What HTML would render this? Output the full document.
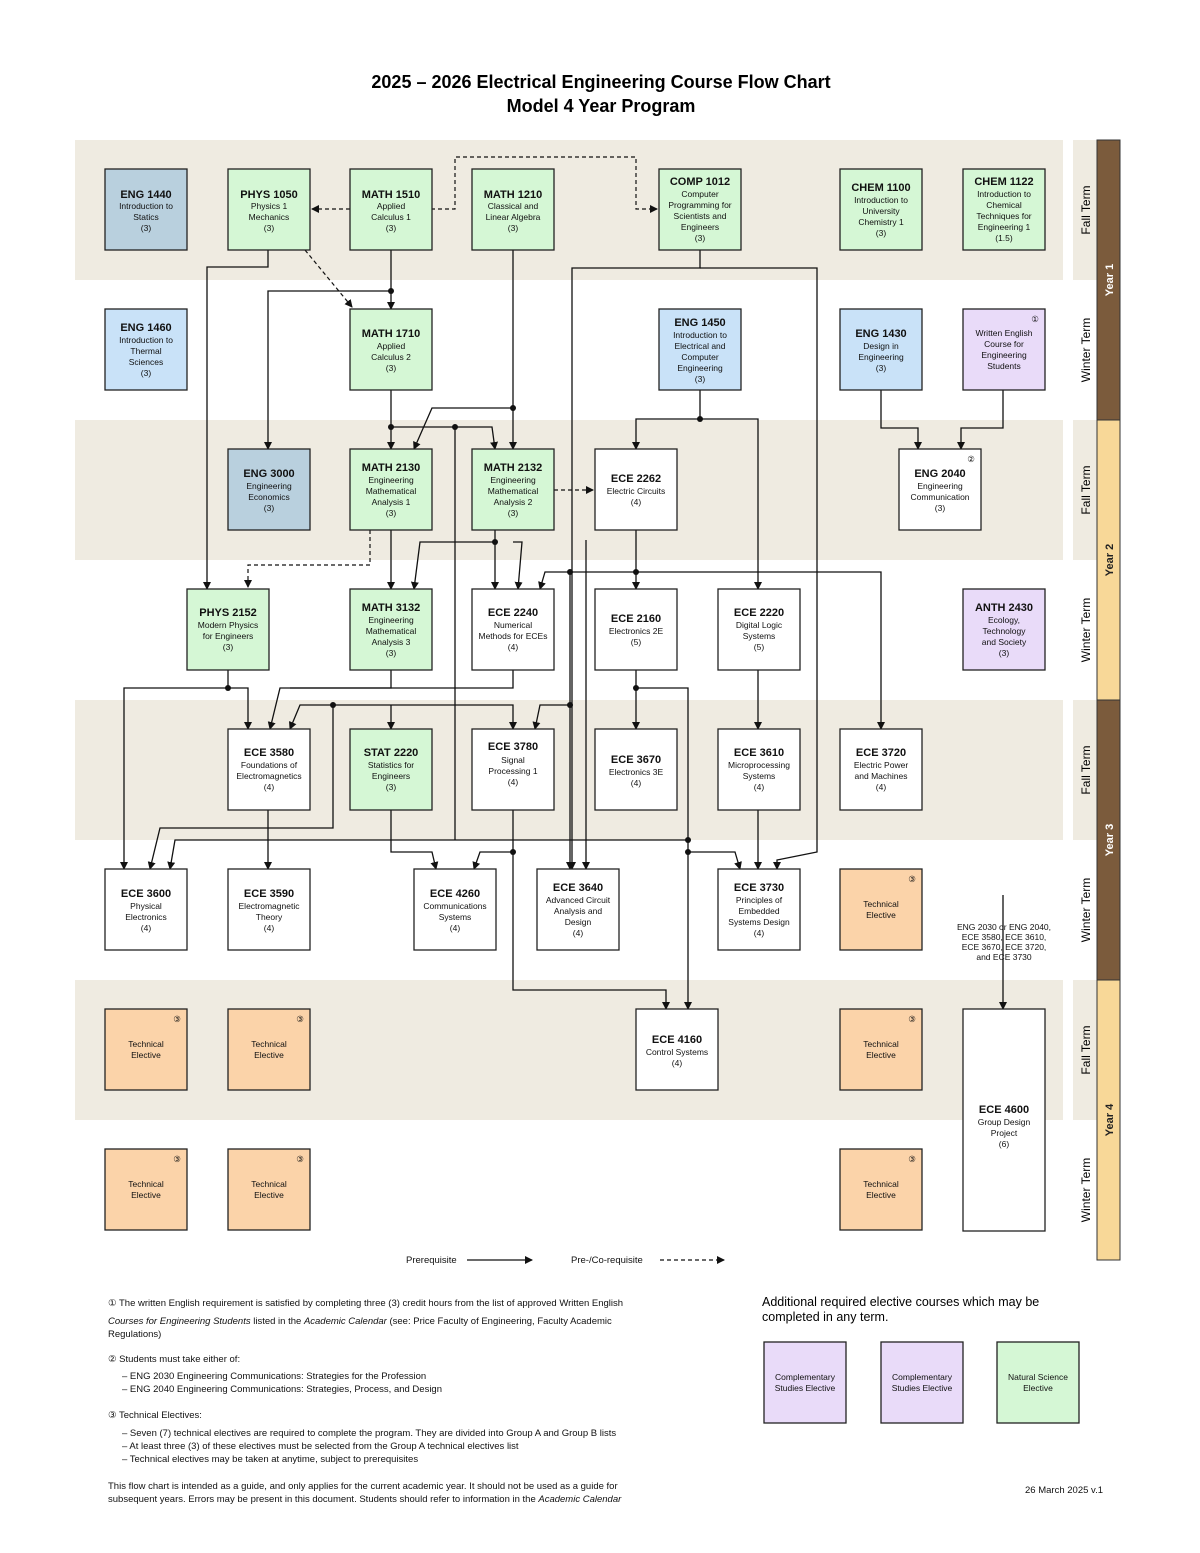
<!DOCTYPE html>
<html><head><meta charset="utf-8"><style>
body{margin:0;background:#fff}
svg{display:block;font-family:"Liberation Sans",Arial,sans-serif}
.c{font-size:11px;font-weight:bold;text-anchor:middle;fill:#111}
.d{font-size:8.5px;text-anchor:middle;fill:#111}
.l{fill:none;stroke:#111;stroke-width:1.3}
.dash{fill:none;stroke:#111;stroke-width:1.2;stroke-dasharray:4 3}
.n{font-size:9.5px;fill:#111}
</style></head><body>
<svg width="1200" height="1553" viewBox="0 0 1200 1553">
<defs>
<marker id="a" markerWidth="8" markerHeight="8" refX="7" refY="4" orient="auto" markerUnits="userSpaceOnUse"><path d="M0,0 L8,4 L0,8z" fill="#111"/></marker>
</defs>
<text x="601" y="88" font-size="18" font-weight="bold" text-anchor="middle">2025 – 2026 Electrical Engineering Course Flow Chart</text>
<text x="601" y="112" font-size="18" font-weight="bold" text-anchor="middle">Model 4 Year Program</text>
<!-- bands -->
<g fill="#efebe1">
<rect x="75" y="140" width="988" height="140"/><rect x="75" y="420" width="988" height="140"/>
<rect x="75" y="700" width="988" height="140"/><rect x="75" y="980" width="988" height="140"/>
<rect x="1073" y="140" width="24" height="140"/><rect x="1073" y="420" width="24" height="140"/>
<rect x="1073" y="700" width="24" height="140"/><rect x="1073" y="980" width="24" height="140"/>
</g>
<g stroke="#333" stroke-width="1">
<rect x="1097" y="140" width="23" height="280" fill="#7b5b3c"/>
<rect x="1097" y="420" width="23" height="280" fill="#f8d898"/>
<rect x="1097" y="700" width="23" height="280" fill="#7b5b3c"/>
<rect x="1097" y="980" width="23" height="280" fill="#f8d898"/>
</g>
<g font-size="12" text-anchor="middle">
<text transform="translate(1090,210) rotate(-90)">Fall Term</text>
<text transform="translate(1090,350) rotate(-90)">Winter Term</text>
<text transform="translate(1090,490) rotate(-90)">Fall Term</text>
<text transform="translate(1090,630) rotate(-90)">Winter Term</text>
<text transform="translate(1090,770) rotate(-90)">Fall Term</text>
<text transform="translate(1090,910) rotate(-90)">Winter Term</text>
<text transform="translate(1090,1050) rotate(-90)">Fall Term</text>
<text transform="translate(1090,1190) rotate(-90)">Winter Term</text>
<g font-weight="bold" font-size="11">
<text transform="translate(1113,280) rotate(-90)" fill="#fff">Year 1</text>
<text transform="translate(1113,560) rotate(-90)" fill="#222">Year 2</text>
<text transform="translate(1113,840) rotate(-90)" fill="#fff">Year 3</text>
<text transform="translate(1113,1120) rotate(-90)" fill="#222">Year 4</text>
</g></g>

<!-- connectors -->
<g class="l">
<path d="M391,250V309" marker-end="url(#a)"/>
<path d="M391,291H268V449" marker-end="url(#a)"/>
<path d="M268,250V267H207V589" marker-end="url(#a)"/>
<path d="M513,250V449" marker-end="url(#a)"/>
<path d="M513,408H432L414,449" marker-end="url(#a)"/>
<path d="M391,390V449" marker-end="url(#a)"/>
<path d="M391,427H455L492,427L495,449" marker-end="url(#a)"/>
<path d="M455,427V840"/>
<path d="M700,250V268H572V869" marker-end="url(#a)"/>
<path d="M700,268H817V852L777,860L777,869" marker-end="url(#a)"/>
<path d="M700,390V419H636V449" marker-end="url(#a)"/>
<path d="M700,419H758V589" marker-end="url(#a)"/>
<path d="M881,390V428H918V449" marker-end="url(#a)"/>
<path d="M1003,390V428H961V449" marker-end="url(#a)"/>
<path d="M636,530V589" marker-end="url(#a)"/>
<path d="M636,572H881V729" marker-end="url(#a)"/>
<path d="M636,572H545L540,589" marker-end="url(#a)"/>
<path d="M570,572V869" marker-end="url(#a)"/>
<path d="M586,540V869" marker-end="url(#a)"/>
<path d="M391,530V589" marker-end="url(#a)"/>
<path d="M495,530V589" marker-end="url(#a)"/>
<path d="M495,542H420L414,589" marker-end="url(#a)"/>
<path d="M513,542H522L518,589" marker-end="url(#a)"/>
<path d="M636,670V729" marker-end="url(#a)"/>
<path d="M636,688H688V1009" marker-end="url(#a)"/>
<path d="M758,670V729" marker-end="url(#a)"/>
<path d="M758,810V869" marker-end="url(#a)"/>
<path d="M228,670V688H124V869" marker-end="url(#a)"/>
<path d="M228,688H248V729" marker-end="url(#a)"/>
<path d="M391,670V688H280L270,729" marker-end="url(#a)"/>
<path d="M513,670V688H290" />
<path d="M391,705H333V828H160L150,869" marker-end="url(#a)"/>
<path d="M333,705H300L290,729" marker-end="url(#a)"/>
<path d="M391,705H513V729" marker-end="url(#a)"/>
<path d="M570,705H540L535,729" marker-end="url(#a)"/>
<path d="M391,705L391,729" marker-end="url(#a)"/>
<path d="M268,810V869" marker-end="url(#a)"/>
<path d="M391,810V852H432L436,869" marker-end="url(#a)"/>
<path d="M513,810V990H666V1009" marker-end="url(#a)"/>
<path d="M513,852H480L474,869" marker-end="url(#a)"/>
<path d="M688,852H735L740,869" marker-end="url(#a)"/>
<path d="M688,840H175L170,869" marker-end="url(#a)"/>
<path d="M1003,895V1009" marker-end="url(#a)"/>
<path d="M467,1260H532" marker-end="url(#a)"/>
</g>
<g class="dash">
<path d="M350,209H312" marker-end="url(#a)"/>
<path d="M431,209H455V157H636V209H657" marker-end="url(#a)"/>
<path d="M305,250L352,307" marker-end="url(#a)"/>
<path d="M554,490H593" marker-end="url(#a)"/>
<path d="M370,530V565H248V587" marker-end="url(#a)"/>
<path d="M660,1260H724" marker-end="url(#a)"/>
</g>
<g fill="#111">
<circle cx="391" cy="291" r="3"/><circle cx="513" cy="408" r="3"/><circle cx="455" cy="427" r="3"/>
<circle cx="391" cy="427" r="3"/><circle cx="700" cy="419" r="3"/><circle cx="636" cy="572" r="3"/>
<circle cx="570" cy="572" r="3"/><circle cx="495" cy="542" r="3"/><circle cx="636" cy="688" r="3"/>
<circle cx="228" cy="688" r="3"/><circle cx="333" cy="705" r="3"/><circle cx="570" cy="705" r="3"/>
<circle cx="513" cy="852" r="3"/><circle cx="688" cy="852" r="3"/><circle cx="688" cy="840" r="3"/>
</g>

<!-- boxes -->
<g stroke="#222" stroke-width="1.3">
<rect x="105" y="169" width="82" height="81" fill="#b9d0de"/>
<rect x="228" y="169" width="82" height="81" fill="#d5f7d5"/>
<rect x="350" y="169" width="82" height="81" fill="#d5f7d5"/>
<rect x="472" y="169" width="82" height="81" fill="#d5f7d5"/>
<rect x="659" y="169" width="82" height="81" fill="#d5f7d5"/>
<rect x="840" y="169" width="82" height="81" fill="#d5f7d5"/>
<rect x="963" y="169" width="82" height="81" fill="#d5f7d5"/>
<rect x="105" y="309" width="82" height="81" fill="#c9e2f8"/>
<rect x="350" y="309" width="82" height="81" fill="#d5f7d5"/>
<rect x="659" y="309" width="82" height="81" fill="#c9e2f8"/>
<rect x="840" y="309" width="82" height="81" fill="#c9e2f8"/>
<rect x="963" y="309" width="82" height="81" fill="#e9dbf9"/>
<rect x="228" y="449" width="82" height="81" fill="#b9d0de"/>
<rect x="350" y="449" width="82" height="81" fill="#d5f7d5"/>
<rect x="472" y="449" width="82" height="81" fill="#d5f7d5"/>
<rect x="595" y="449" width="82" height="81" fill="#fff"/>
<rect x="899" y="449" width="82" height="81" fill="#fff"/>
<rect x="187" y="589" width="82" height="81" fill="#d5f7d5"/>
<rect x="350" y="589" width="82" height="81" fill="#d5f7d5"/>
<rect x="472" y="589" width="82" height="81" fill="#fff"/>
<rect x="595" y="589" width="82" height="81" fill="#fff"/>
<rect x="718" y="589" width="82" height="81" fill="#fff"/>
<rect x="963" y="589" width="82" height="81" fill="#e9dbf9"/>
<rect x="228" y="729" width="82" height="81" fill="#fff"/>
<rect x="350" y="729" width="82" height="81" fill="#d5f7d5"/>
<rect x="472" y="729" width="82" height="81" fill="#fff"/>
<rect x="595" y="729" width="82" height="81" fill="#fff"/>
<rect x="718" y="729" width="82" height="81" fill="#fff"/>
<rect x="840" y="729" width="82" height="81" fill="#fff"/>
<rect x="105" y="869" width="82" height="81" fill="#fff"/>
<rect x="228" y="869" width="82" height="81" fill="#fff"/>
<rect x="414" y="869" width="82" height="81" fill="#fff"/>
<rect x="537" y="869" width="82" height="81" fill="#fff"/>
<rect x="718" y="869" width="82" height="81" fill="#fff"/>
<rect x="840" y="869" width="82" height="81" fill="#fbd3a9"/>
<rect x="105" y="1009" width="82" height="81" fill="#fbd3a9"/>
<rect x="228" y="1009" width="82" height="81" fill="#fbd3a9"/>
<rect x="636" y="1009" width="82" height="81" fill="#fff"/>
<rect x="840" y="1009" width="82" height="81" fill="#fbd3a9"/>
<rect x="963" y="1009" width="82" height="222" fill="#fff"/>
<rect x="105" y="1149" width="82" height="81" fill="#fbd3a9"/>
<rect x="228" y="1149" width="82" height="81" fill="#fbd3a9"/>
<rect x="840" y="1149" width="82" height="81" fill="#fbd3a9"/>
<rect x="764" y="1342" width="82" height="81" fill="#e9dbf9"/>
<rect x="881" y="1342" width="82" height="81" fill="#e9dbf9"/>
<rect x="997" y="1342" width="82" height="81" fill="#d5f7d5"/>
</g>

<g>
<text class="c" x="146" y="198">ENG 1440</text><text class="d" x="146" y="209">Introduction to</text><text class="d" x="146" y="220">Statics</text><text class="d" x="146" y="231">(3)</text>
<text class="c" x="269" y="198">PHYS 1050</text><text class="d" x="269" y="209">Physics 1</text><text class="d" x="269" y="220">Mechanics</text><text class="d" x="269" y="231">(3)</text>
<text class="c" x="391" y="198">MATH 1510</text><text class="d" x="391" y="209">Applied</text><text class="d" x="391" y="220">Calculus 1</text><text class="d" x="391" y="231">(3)</text>
<text class="c" x="513" y="198">MATH 1210</text><text class="d" x="513" y="209">Classical and</text><text class="d" x="513" y="220">Linear Algebra</text><text class="d" x="513" y="231">(3)</text>
<text class="c" x="700" y="185">COMP 1012</text><text class="d" x="700" y="197">Computer</text><text class="d" x="700" y="208">Programming for</text><text class="d" x="700" y="219">Scientists and</text><text class="d" x="700" y="230">Engineers</text><text class="d" x="700" y="241">(3)</text>
<text class="c" x="881" y="191">CHEM 1100</text><text class="d" x="881" y="203">Introduction to</text><text class="d" x="881" y="214">University</text><text class="d" x="881" y="225">Chemistry 1</text><text class="d" x="881" y="236">(3)</text>
<text class="c" x="1004" y="185">CHEM 1122</text><text class="d" x="1004" y="197">Introduction to</text><text class="d" x="1004" y="208">Chemical</text><text class="d" x="1004" y="219">Techniques for</text><text class="d" x="1004" y="230">Engineering 1</text><text class="d" x="1004" y="241">(1.5)</text>

<text class="c" x="146" y="331">ENG 1460</text><text class="d" x="146" y="343">Introduction to</text><text class="d" x="146" y="354">Thermal</text><text class="d" x="146" y="365">Sciences</text><text class="d" x="146" y="376">(3)</text>
<text class="c" x="391" y="337">MATH 1710</text><text class="d" x="391" y="349">Applied</text><text class="d" x="391" y="360">Calculus 2</text><text class="d" x="391" y="371">(3)</text>
<text class="c" x="700" y="326">ENG 1450</text><text class="d" x="700" y="338">Introduction to</text><text class="d" x="700" y="349">Electrical and</text><text class="d" x="700" y="360">Computer</text><text class="d" x="700" y="371">Engineering</text><text class="d" x="700" y="382">(3)</text>
<text class="c" x="881" y="337">ENG 1430</text><text class="d" x="881" y="349">Design in</text><text class="d" x="881" y="360">Engineering</text><text class="d" x="881" y="371">(3)</text>
<text class="d" x="1004" y="336">Written English</text><text class="d" x="1004" y="347">Course for</text><text class="d" x="1004" y="358">Engineering</text><text class="d" x="1004" y="369">Students</text><text class="d" x="1035" y="322">①</text>

<text class="c" x="269" y="477">ENG 3000</text><text class="d" x="269" y="489">Engineering</text><text class="d" x="269" y="500">Economics</text><text class="d" x="269" y="511">(3)</text>
<text class="c" x="391" y="471">MATH 2130</text><text class="d" x="391" y="483">Engineering</text><text class="d" x="391" y="494">Mathematical</text><text class="d" x="391" y="505">Analysis 1</text><text class="d" x="391" y="516">(3)</text>
<text class="c" x="513" y="471">MATH 2132</text><text class="d" x="513" y="483">Engineering</text><text class="d" x="513" y="494">Mathematical</text><text class="d" x="513" y="505">Analysis 2</text><text class="d" x="513" y="516">(3)</text>
<text class="c" x="636" y="482">ECE 2262</text><text class="d" x="636" y="494">Electric Circuits</text><text class="d" x="636" y="505">(4)</text>
<text class="c" x="940" y="477">ENG 2040</text><text class="d" x="940" y="489">Engineering</text><text class="d" x="940" y="500">Communication</text><text class="d" x="940" y="511">(3)</text><text class="d" x="971" y="462">②</text>

<text class="c" x="228" y="616">PHYS 2152</text><text class="d" x="228" y="628">Modern Physics</text><text class="d" x="228" y="639">for Engineers</text><text class="d" x="228" y="650">(3)</text>
<text class="c" x="391" y="611">MATH 3132</text><text class="d" x="391" y="623">Engineering</text><text class="d" x="391" y="634">Mathematical</text><text class="d" x="391" y="645">Analysis 3</text><text class="d" x="391" y="656">(3)</text>
<text class="c" x="513" y="616">ECE 2240</text><text class="d" x="513" y="628">Numerical</text><text class="d" x="513" y="639">Methods for ECEs</text><text class="d" x="513" y="650">(4)</text>
<text class="c" x="636" y="622">ECE 2160</text><text class="d" x="636" y="634">Electronics 2E</text><text class="d" x="636" y="645">(5)</text>
<text class="c" x="759" y="616">ECE 2220</text><text class="d" x="759" y="628">Digital Logic</text><text class="d" x="759" y="639">Systems</text><text class="d" x="759" y="650">(5)</text>
<text class="c" x="1004" y="611">ANTH 2430</text><text class="d" x="1004" y="623">Ecology,</text><text class="d" x="1004" y="634">Technology</text><text class="d" x="1004" y="645">and Society</text><text class="d" x="1004" y="656">(3)</text>

<text class="c" x="269" y="756">ECE 3580</text><text class="d" x="269" y="768">Foundations of</text><text class="d" x="269" y="779">Electromagnetics</text><text class="d" x="269" y="790">(4)</text>
<text class="c" x="391" y="756">STAT 2220</text><text class="d" x="391" y="768">Statistics for</text><text class="d" x="391" y="779">Engineers</text><text class="d" x="391" y="790">(3)</text>
<text class="c" x="513" y="750">ECE 3780</text><text class="d" x="513" y="763">Signal</text><text class="d" x="513" y="774">Processing 1</text><text class="d" x="513" y="785">(4)</text>
<text class="c" x="636" y="763">ECE 3670</text><text class="d" x="636" y="775">Electronics 3E</text><text class="d" x="636" y="786">(4)</text>
<text class="c" x="759" y="756">ECE 3610</text><text class="d" x="759" y="768">Microprocessing</text><text class="d" x="759" y="779">Systems</text><text class="d" x="759" y="790">(4)</text>
<text class="c" x="881" y="756">ECE 3720</text><text class="d" x="881" y="768">Electric Power</text><text class="d" x="881" y="779">and Machines</text><text class="d" x="881" y="790">(4)</text>

<text class="c" x="146" y="897">ECE 3600</text><text class="d" x="146" y="909">Physical</text><text class="d" x="146" y="920">Electronics</text><text class="d" x="146" y="931">(4)</text>
<text class="c" x="269" y="897">ECE 3590</text><text class="d" x="269" y="909">Electromagnetic</text><text class="d" x="269" y="920">Theory</text><text class="d" x="269" y="931">(4)</text>
<text class="c" x="455" y="897">ECE 4260</text><text class="d" x="455" y="909">Communications</text><text class="d" x="455" y="920">Systems</text><text class="d" x="455" y="931">(4)</text>
<text class="c" x="578" y="891">ECE 3640</text><text class="d" x="578" y="903">Advanced Circuit</text><text class="d" x="578" y="914">Analysis and</text><text class="d" x="578" y="925">Design</text><text class="d" x="578" y="936">(4)</text>
<text class="c" x="759" y="891">ECE 3730</text><text class="d" x="759" y="903">Principles of</text><text class="d" x="759" y="914">Embedded</text><text class="d" x="759" y="925">Systems Design</text><text class="d" x="759" y="936">(4)</text>

<text class="c" x="677" y="1043">ECE 4160</text><text class="d" x="677" y="1055">Control Systems</text><text class="d" x="677" y="1066">(4)</text>
<text class="c" x="1004" y="1113">ECE 4600</text><text class="d" x="1004" y="1125">Group Design</text><text class="d" x="1004" y="1136">Project</text><text class="d" x="1004" y="1147">(6)</text>
<g class="d"><text x="1004" y="930">ENG 2030 or ENG 2040,</text><text x="1004" y="940">ECE 3580, ECE 3610,</text><text x="1004" y="950">ECE 3670, ECE 3720,</text><text x="1004" y="960">and ECE 3730</text></g>

<g class="d">
<text x="881" y="907">Technical</text><text x="881" y="918">Elective</text><text x="912" y="882">③</text>
<text x="146" y="1047">Technical</text><text x="146" y="1058">Elective</text><text x="177" y="1022">③</text>
<text x="269" y="1047">Technical</text><text x="269" y="1058">Elective</text><text x="300" y="1022">③</text>
<text x="881" y="1047">Technical</text><text x="881" y="1058">Elective</text><text x="912" y="1022">③</text>
<text x="146" y="1187">Technical</text><text x="146" y="1198">Elective</text><text x="177" y="1162">③</text>
<text x="269" y="1187">Technical</text><text x="269" y="1198">Elective</text><text x="300" y="1162">③</text>
<text x="881" y="1187">Technical</text><text x="881" y="1198">Elective</text><text x="912" y="1162">③</text>
<text x="805" y="1380">Complementary</text><text x="805" y="1391">Studies Elective</text>
<text x="922" y="1380">Complementary</text><text x="922" y="1391">Studies Elective</text>
<text x="1038" y="1380">Natural Science</text><text x="1038" y="1391">Elective</text>
</g>
</g>

<text class="n" x="406" y="1263">Prerequisite</text>
<text class="n" x="571" y="1263">Pre-/Co-requisite</text>
<text x="762" y="1306" font-size="12.5">Additional required elective courses which may be</text>
<text x="762" y="1321" font-size="12.5">completed in any term.</text>
<text class="n" x="1103" y="1493" text-anchor="end">26 March 2025 v.1</text>

<g class="n">
<text x="108" y="1306">① The written English requirement is satisfied by completing three (3) credit hours from the list of approved Written English</text>
<text x="108" y="1324"><tspan font-style="italic">Courses for Engineering Students</tspan> listed in the <tspan font-style="italic">Academic Calendar</tspan> (see: Price Faculty of Engineering, Faculty Academic</text>
<text x="108" y="1337">Regulations)</text>
<text x="108" y="1362">② Students must take either of:</text>
<text x="122" y="1379">– ENG 2030 Engineering Communications: Strategies for the Profession</text>
<text x="122" y="1392">– ENG 2040 Engineering Communications: Strategies, Process, and Design</text>
<text x="108" y="1418">③ Technical Electives:</text>
<text x="122" y="1436">– Seven (7) technical electives are required to complete the program. They are divided into Group A and Group B lists</text>
<text x="122" y="1449">– At least three (3) of these electives must be selected from the Group A technical electives list</text>
<text x="122" y="1462">– Technical electives may be taken at anytime, subject to prerequisites</text>
<text x="108" y="1489">This flow chart is intended as a guide, and only applies for the current academic year. It should not be used as a guide for</text>
<text x="108" y="1502">subsequent years. Errors may be present in this document. Students should refer to information in the <tspan font-style="italic">Academic Calendar</tspan></text>
</g>
</svg>
</body></html>
